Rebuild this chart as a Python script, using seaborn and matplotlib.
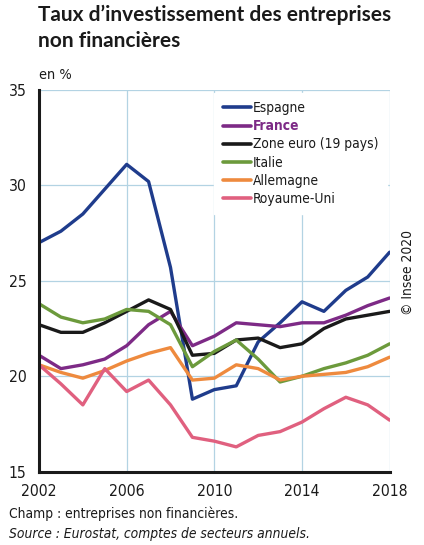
import pandas as pd
import matplotlib
matplotlib.use("Agg")
import matplotlib.pyplot as plt
from matplotlib import font_manager
import seaborn as sns

# --- data ---
years = list(range(2002, 2019))

espagne = [27.0, 27.6, 28.5, 29.8, 31.1, 30.2, 25.7, 18.8, 19.3, 19.5,
           21.8, 22.8, 23.9, 23.4, 24.5, 25.2, 26.5]
france = [21.1, 20.4, 20.6, 20.9, 21.6, 22.7, 23.4, 21.6, 22.1, 22.8,
          22.7, 22.6, 22.8, 22.8, 23.2, 23.7, 24.1]
zone_euro = [22.7, 22.3, 22.3, 22.8, 23.4, 24.0, 23.5, 21.1, 21.2, 21.9,
             22.0, 21.5, 21.7, 22.5, 23.0, 23.2, 23.4]
italie = [23.8, 23.1, 22.8, 23.0, 23.5, 23.4, 22.7, 20.5, 21.3, 21.9,
          20.9, 19.7, 20.0, 20.4, 20.7, 21.1, 21.7]
allemagne = [20.6, 20.2, 19.9, 20.3, 20.8, 21.2, 21.5, 19.8, 19.9, 20.6,
             20.4, 19.8, 20.0, 20.1, 20.2, 20.5, 21.0]
royaume_uni = [20.6, 19.6, 18.5, 20.4, 19.2, 19.8, 18.5, 16.8, 16.6, 16.3,
               16.9, 17.1, 17.6, 18.3, 18.9, 18.5, 17.7]

countries = ["Espagne", "France", "Zone euro (19 pays)", "Italie",
             "Allemagne", "Royaume-Uni"]
colors = ["#1f3c8c", "#7d2a86", "#1a1a1a", "#6c9a3c", "#ee8a3e", "#e0607f"]
series = [espagne, france, zone_euro, italie, allemagne, royaume_uni]

df = pd.concat([pd.DataFrame({"annee": years, "taux": s, "pays": c})
                for c, s in zip(countries, series)], ignore_index=True)

# --- pick a narrow font (the Insee charts use a condensed face) ---
fonts = font_manager.fontManager.ttflist
names = {f.name for f in fonts}
if "Liberation Sans Narrow" in names:
    narrow, stretch, small = ["Liberation Sans Narrow", "DejaVu Sans"], "normal", 1.0
elif any(f.name == "DejaVu Sans" and f.stretch == "condensed" for f in fonts):
    narrow, stretch, small = ["DejaVu Sans", "DejaVu Sans"], "condensed", 0.9
else:
    narrow, stretch, small = ["Roboto", "DejaVu Sans"], "normal", 0.88

# --- plot ---
sns.set_style("white")
plt.rcParams["font.family"] = narrow
plt.rcParams["font.stretch"] = stretch

fig = plt.figure(figsize=(4.24, 5.45), dpi=100)
ax = fig.add_axes([0.092, 0.1345, 0.827, 0.7005])

sns.lineplot(data=df, x="annee", y="taux", hue="pays", hue_order=countries,
             palette=colors, linewidth=2.4, ax=ax, legend=False, zorder=3)

ax.set_xlim(2002, 2018)
ax.set_ylim(15, 35)
ax.set_xticks([2002, 2006, 2010, 2014, 2018])
ax.set_yticks([15, 20, 25, 30, 35])
ax.grid(True, color="#b3d3e3", linewidth=0.9)
ax.set_axisbelow(True)
ax.set_xlabel("")
ax.set_ylabel("")
ax.tick_params(length=0, labelsize=12.5 * small, pad=9, colors="#1a1a1a")

for side in ["top", "right"]:
    ax.spines[side].set_visible(False)
for side in ["left", "bottom"]:
    ax.spines[side].set_color("#1a1a1a")
    ax.spines[side].set_linewidth(2.2)
    ax.spines[side].set_zorder(4)

# legend with white background hiding the grid
handles = [plt.Line2D([], [], color=c, linewidth=2.6) for c in colors]
leg = ax.legend(handles, countries, loc="upper left",
                bbox_to_anchor=(0.5, 0.992), frameon=True, fontsize=11 * small,
                handlelength=2.1, handletextpad=0.1, labelspacing=0.3,
                borderpad=0.6, borderaxespad=0.0, fancybox=False)
leg.get_frame().set_facecolor("white")
leg.get_frame().set_edgecolor("white")
leg.get_frame().set_alpha(1)
leg.set_zorder(5)
for txt in leg.get_texts():
    txt.set_color("#1a1a1a")
    if txt.get_text() == "France":
        txt.set_color("#7d2a86")
        txt.set_fontweight("bold")

# texts around the chart
fig.text(0.09, 0.992, "Taux d\u2019investissement des entreprises\nnon financi\u00e8res",
         ha="left", va="top", fontsize=15, fontweight="bold",
         family=["Lato", "DejaVu Sans"], stretch="normal", color="#1a1a1a",
         linespacing=1.4)
fig.text(0.092, 0.862, "en %", ha="left", va="center", fontsize=11.5 * small,
         color="#1a1a1a")
fig.text(0.962, 0.5, "\u00a9 Insee 2020", rotation=90, ha="center",
         va="center", fontsize=11 * small, color="#1a1a1a")
fig.text(0.022, 0.057, "Champ : entreprises non financi\u00e8res.", ha="left",
         va="center", fontsize=11 * small, color="#1a1a1a")
fig.text(0.022, 0.020, "Source : Eurostat, comptes de secteurs annuels.",
         ha="left", va="center", fontsize=11 * small, style="italic",
         color="#1a1a1a")

fig.savefig("out.png", dpi=100)
